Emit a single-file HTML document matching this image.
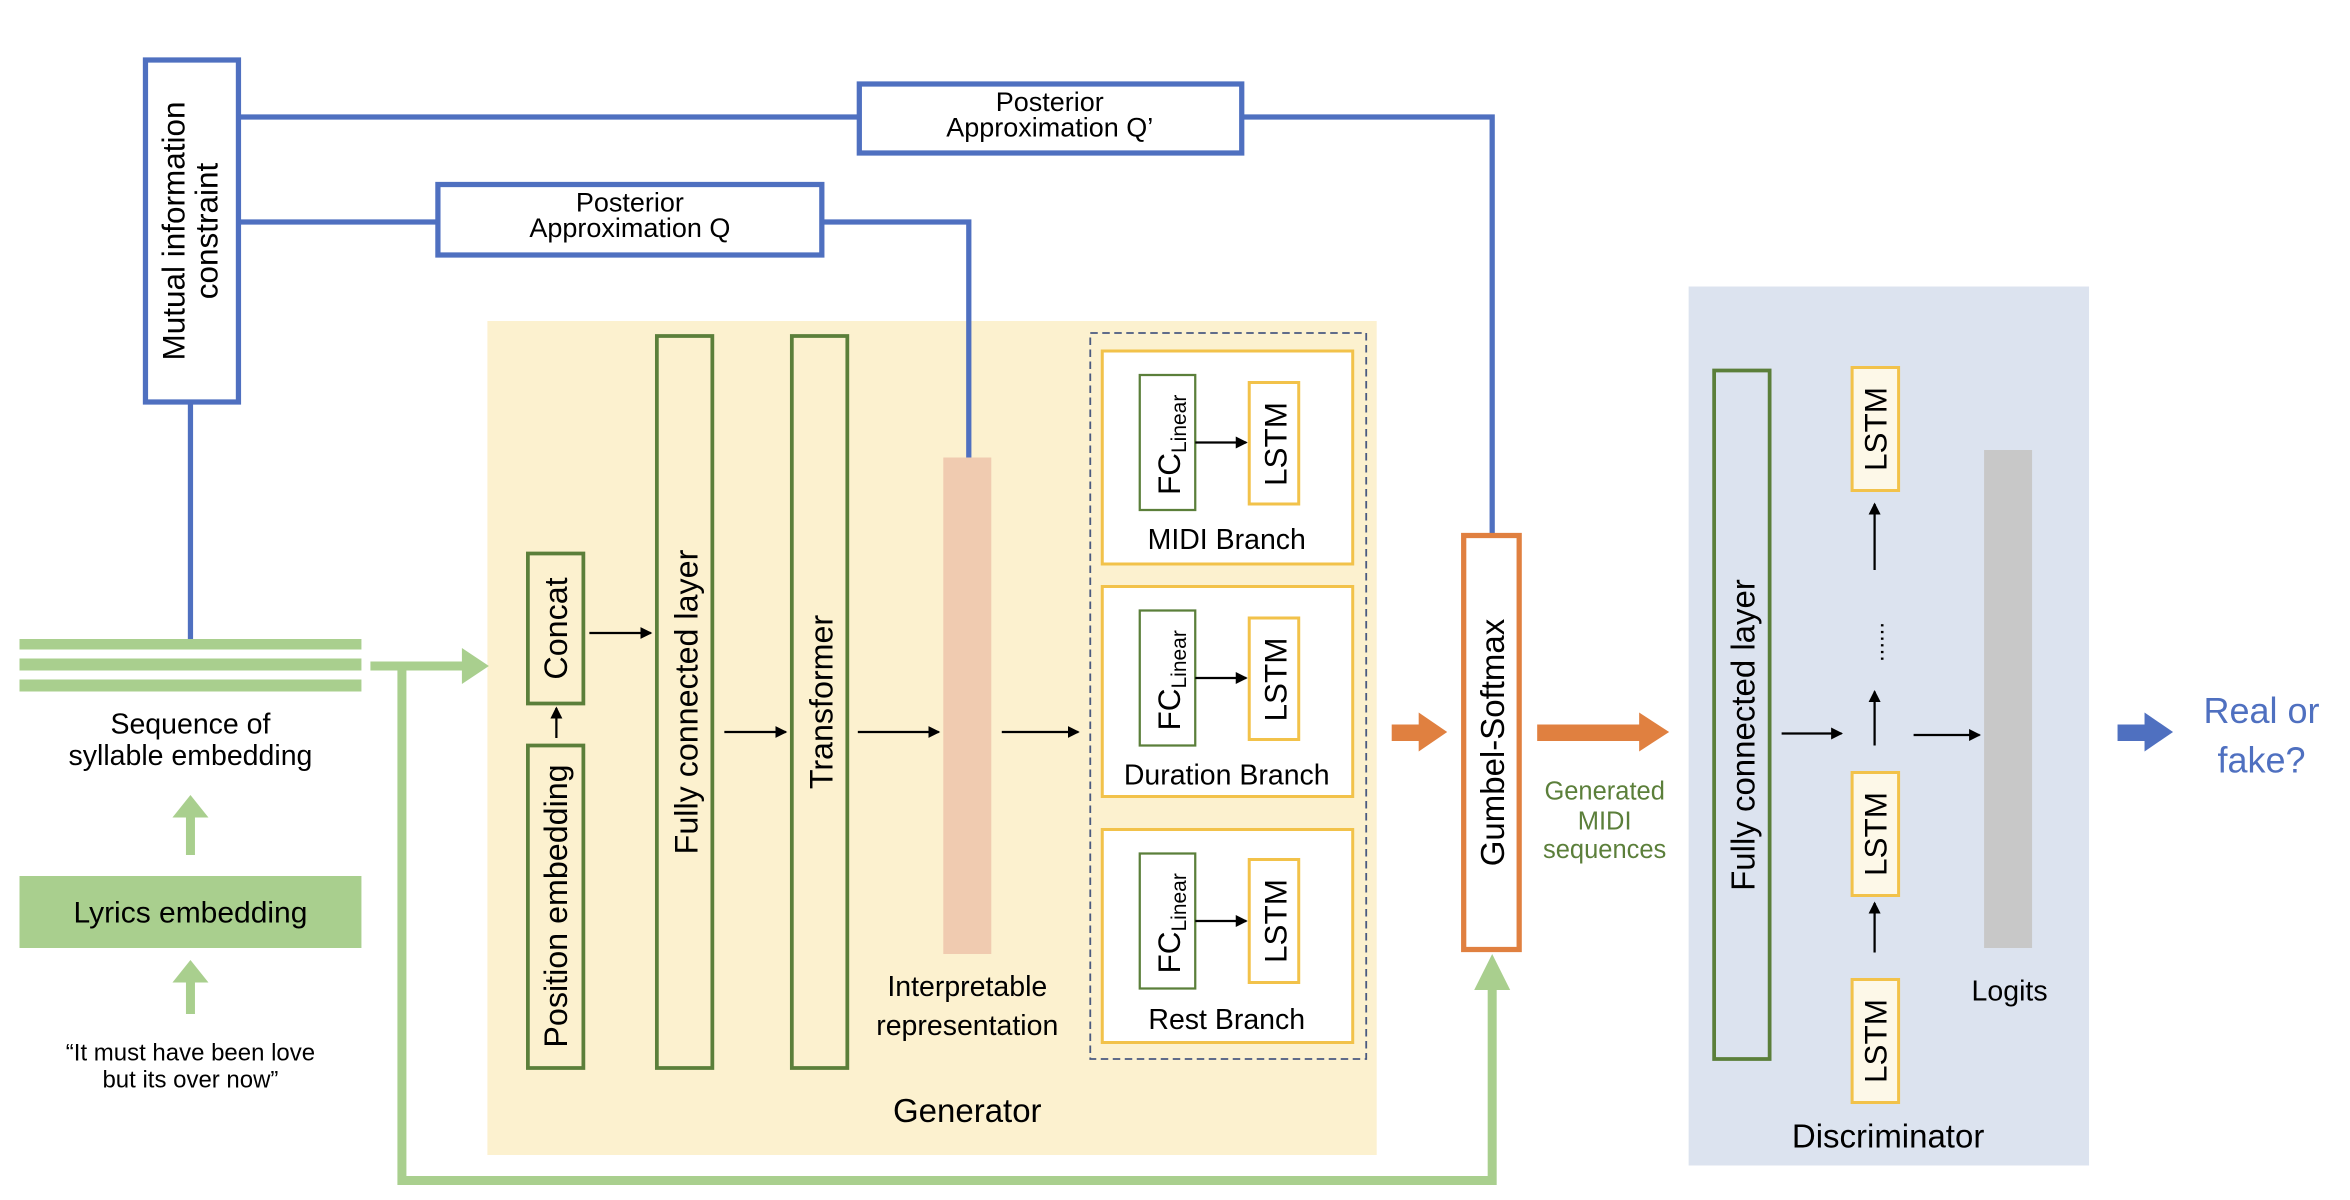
<!DOCTYPE html>
<html><head><meta charset="utf-8"><style>html,body{margin:0;padding:0;background:#fff}svg{display:block}</style></head>
<body>
<svg width="2350" height="1200" viewBox="0 0 1567 800" preserveAspectRatio="none" xmlns="http://www.w3.org/2000/svg" font-family="Liberation Sans, sans-serif">
<defs>
<marker id="ah" markerWidth="8" markerHeight="8" refX="7" refY="4" orient="auto" markerUnits="userSpaceOnUse"><path d="M0,0 L8,4 L0,8 z" fill="#000"/></marker>
</defs>
<rect x="325" y="214" width="593" height="556" fill="#fcf1cf"/>
<rect x="1126" y="191" width="267" height="586" fill="#dce3ef"/>
<g stroke="#4f70c0" stroke-width="3.5" fill="none">
<polyline points="159,78 573,78"/>
<polyline points="828,78 995,78 995,357"/>
<polyline points="159,148 292,148"/>
<polyline points="548,148 646,148 646,305"/>
<polyline points="127,268 127,427"/>
<rect x="97" y="40" width="62" height="228" fill="#fff"/>
<rect x="573" y="56" width="255" height="46" fill="#fff"/>
<rect x="292" y="123" width="256" height="47" fill="#fff"/>
</g>
<text transform="translate(123,154) rotate(-90)" font-size="21" text-anchor="middle">Mutual information</text>
<text transform="translate(145,154) rotate(-90)" font-size="21" text-anchor="middle">constraint</text>
<text x="700" y="74" font-size="18" text-anchor="middle">Posterior</text>
<text x="700" y="91" font-size="18" text-anchor="middle">Approximation Q’</text>
<text x="420" y="141" font-size="18" text-anchor="middle">Posterior</text>
<text x="420" y="158" font-size="18" text-anchor="middle">Approximation Q</text>
<g fill="#a9cf8e">
<rect x="13" y="426" width="228" height="7"/>
<rect x="13" y="439" width="228" height="8"/>
<rect x="13" y="453" width="228" height="8"/>
</g>
<g stroke="#a9cf8e" stroke-width="6" fill="none">
<polyline points="247,444 312,444"/>
<polyline points="268,444 268,787 995,787 995,655"/>
<line x1="127" y1="570" x2="127" y2="542"/>
<line x1="127" y1="676" x2="127" y2="652"/>
</g>
<g fill="#a9cf8e">
<polygon points="308,432 326,444 308,456"/>
<polygon points="983,660 995,636 1007,660"/>
<polygon points="115,545 127,530 139,545"/>
<polygon points="115,655 127,640 139,655"/>
<rect x="13" y="584" width="228" height="48"/>
</g>
<text x="127" y="489" font-size="19" text-anchor="middle">Sequence of</text>
<text x="127" y="510" font-size="19" text-anchor="middle">syllable embedding</text>
<text x="127" y="615" font-size="20" text-anchor="middle">Lyrics embedding</text>
<text x="127" y="707" font-size="16" text-anchor="middle">“It must have been love</text>
<text x="127" y="725" font-size="16" text-anchor="middle">but its over now”</text>
<g stroke="#5b7f3a" stroke-width="2.5" fill="none">
<rect x="352" y="369" width="37" height="100"/>
<rect x="352" y="497" width="37" height="215"/>
<rect x="438" y="224" width="37" height="488"/>
<rect x="528" y="224" width="37" height="488"/>
</g>
<g font-size="21.5" text-anchor="middle">
<text transform="translate(378,419) rotate(-90)">Concat</text>
<text transform="translate(378,604) rotate(-90)">Position embedding</text>
<text transform="translate(465,468) rotate(-90)">Fully connected layer</text>
<text transform="translate(555,468) rotate(-90)">Transformer</text>
</g>
<rect x="629" y="305" width="32" height="331" fill="#f0cbb0"/>
<g stroke="#000" stroke-width="1.5" marker-end="url(#ah)">
<line x1="371" y1="492" x2="371" y2="472"/>
<line x1="393" y1="422" x2="434" y2="422"/>
<line x1="483" y1="488" x2="524" y2="488"/>
<line x1="572" y1="488" x2="626" y2="488"/>
<line x1="668" y1="488" x2="719" y2="488"/>
</g>
<text x="645" y="664" font-size="19" text-anchor="middle">Interpretable</text>
<text x="645" y="690" font-size="19" text-anchor="middle">representation</text>
<rect x="727" y="222" width="184" height="484" fill="none" stroke="#4a5a80" stroke-width="1.2" stroke-dasharray="5,3"/>
<g stroke="#f2c24a" stroke-width="2" fill="#fff">
<rect x="735" y="234" width="167" height="142"/>
<rect x="735" y="391" width="167" height="140"/>
<rect x="735" y="553" width="167" height="142"/>
</g>
<g stroke="#5b7f3a" stroke-width="1.5" fill="#fff">
<rect x="760" y="250" width="37" height="90"/>
<rect x="760" y="407" width="37" height="90"/>
<rect x="760" y="569" width="37" height="90"/>
</g>
<g stroke="#f2c24a" stroke-width="2" fill="#fff">
<rect x="833" y="255" width="33" height="81"/>
<rect x="833" y="412" width="33" height="81"/>
<rect x="833" y="573" width="33" height="82"/>
</g>
<g stroke="#000" stroke-width="1.5" marker-end="url(#ah)">
<line x1="797" y1="295" x2="831" y2="295"/>
<line x1="797" y1="452" x2="831" y2="452"/>
<line x1="797" y1="614" x2="831" y2="614"/>
</g>
<g font-size="21" text-anchor="start">
<text transform="translate(787,330) rotate(-90)">FC<tspan font-size="14" dy="4">Linear</tspan></text>
<text transform="translate(787,487) rotate(-90)">FC<tspan font-size="14" dy="4">Linear</tspan></text>
<text transform="translate(787,649) rotate(-90)">FC<tspan font-size="14" dy="4">Linear</tspan></text>
</g>
<g font-size="21" text-anchor="middle">
<text transform="translate(858,296) rotate(-90)">LSTM</text>
<text transform="translate(858,453) rotate(-90)">LSTM</text>
<text transform="translate(858,614) rotate(-90)">LSTM</text>
</g>
<g font-size="19" text-anchor="middle">
<text x="818" y="366">MIDI Branch</text>
<text x="818" y="523">Duration Branch</text>
<text x="818" y="686">Rest Branch</text>
</g>
<text x="645" y="748" font-size="22" text-anchor="middle">Generator</text>
<g fill="#e08040">
<rect x="928" y="483" width="20" height="11"/>
<polygon points="946,475 965,488 946,501"/>
<rect x="1025" y="483" width="70" height="11"/>
<polygon points="1093,475 1113,488 1093,501"/>
</g>
<rect x="976" y="357" width="37" height="276" fill="#fff" stroke="#e08040" stroke-width="3.5"/>
<text transform="translate(1003,495) rotate(-90)" font-size="22" text-anchor="middle">Gumbel-Softmax</text>
<g fill="#5b7f3a" font-size="17" text-anchor="middle">
<text x="1070" y="533">Generated</text>
<text x="1070" y="553">MIDI</text>
<text x="1070" y="572">sequences</text>
</g>
<rect x="1143" y="247" width="37" height="459" fill="none" stroke="#5b7f3a" stroke-width="2.5"/>
<text transform="translate(1170,490) rotate(-90)" font-size="22" text-anchor="middle">Fully connected layer</text>
<g stroke="#f2c24a" stroke-width="2" fill="#fdf8e8">
<rect x="1235" y="245" width="31" height="82"/>
<rect x="1235" y="515" width="31" height="82"/>
<rect x="1235" y="653" width="31" height="82"/>
</g>
<g font-size="21" text-anchor="middle">
<text transform="translate(1258,286) rotate(-90)">LSTM</text>
<text transform="translate(1258,556) rotate(-90)">LSTM</text>
<text transform="translate(1258,694) rotate(-90)">LSTM</text>
</g>
<g stroke="#000" stroke-width="1.5" marker-end="url(#ah)">
<line x1="1250" y1="380" x2="1250" y2="336"/>
<line x1="1250" y1="497" x2="1250" y2="461"/>
<line x1="1250" y1="635" x2="1250" y2="602"/>
<line x1="1188" y1="489" x2="1228" y2="489"/>
<line x1="1276" y1="490" x2="1320" y2="490"/>
</g>
<text transform="translate(1256,428) rotate(-90)" font-size="16" text-anchor="middle">......</text>
<rect x="1323" y="300" width="32" height="332" fill="#c8c8c8"/>
<text x="1340" y="667" font-size="19" text-anchor="middle">Logits</text>
<text x="1259" y="765" font-size="22" text-anchor="middle">Discriminator</text>
<g fill="#4f70c0">
<rect x="1412" y="483" width="20" height="11"/>
<polygon points="1430,475 1449,488 1430,501"/>
</g>
<text x="1508" y="482" font-size="24" fill="#4f70c0" text-anchor="middle">Real or</text>
<text x="1508" y="515" font-size="24" fill="#4f70c0" text-anchor="middle">fake?</text>
</svg>
</body></html>
